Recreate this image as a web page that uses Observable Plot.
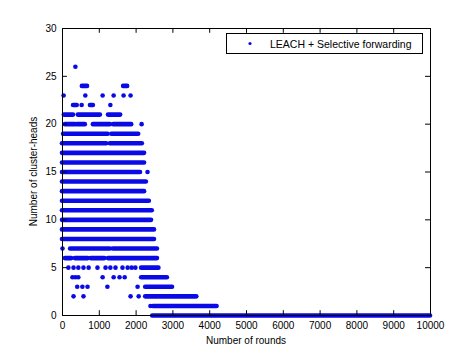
<!DOCTYPE html>
<html>
<head>
<meta charset="utf-8">
<script src="https://cdn.jsdelivr.net/npm/d3@7"></script>
<script src="https://cdn.jsdelivr.net/npm/@observablehq/plot@0.6"></script>
<style>
  html, body { margin: 0; padding: 0; background: #fff; }
  #chart svg { display: block; font-family: "Liberation Sans", Arial, sans-serif; }
</style>
</head>
<body>
<div id="chart"></div>
<script>
// ---- data ----
const seriesName = "LEACH + Selective forwarding";
const xLabel = "Number of rounds";
const yLabel = "Number of cluster-heads";
const xTicks = [0, 1000, 2000, 3000, 4000, 5000, 6000, 7000, 8000, 9000, 10000];
const yTicks = [0, 5, 10, 15, 20, 25, 30];

// dense runs of points: level (cluster-heads), first round, last round
const segLevel = [0, 1, 2, 3, 4, 5, 6, 6, 6, 6, 7, 7, 8, 9, 10, 11, 12, 13, 14, 15, 16, 17, 18, 18, 19, 19, 20, 20, 20, 20, 21, 21, 21, 22, 22, 24, 24];
const segStart = [2450, 2470, 2260, 2260, 2150, 2150, 80, 350, 780, 1250, 220, 1380, 0, 0, 0, 0, 0, 0, 0, 0, 0, 0, 0, 1300, 30, 1340, 80, 400, 840, 1390, 50, 430, 1250, 300, 760, 540, 1660];
const segEnd   = [10000, 4200, 3650, 2990, 2850, 2620, 250, 700, 1150, 2580, 1300, 2580, 2500, 2500, 2420, 2440, 2360, 2230, 2280, 2120, 2230, 2230, 1200, 2170, 1240, 2070, 350, 620, 1300, 1880, 300, 1030, 1580, 400, 840, 680, 1770];

// isolated points
const ptLevel = [1, 2, 2, 2, 2, 3, 3, 3, 3, 3, 4, 4, 4, 4, 4, 4, 4, 5, 5, 5, 5, 5, 5, 5, 5, 5, 5, 5, 5, 5, 7, 15, 20, 22, 22, 23, 23, 23, 23, 23, 23, 26];
const ptRound = [2390, 300, 570, 1850, 2070, 400, 540, 680, 1220, 2040, 270, 350, 430, 1090, 1390, 1550, 1690, 160, 300, 430, 570, 710, 950, 1170, 1300, 1440, 1630, 1770, 1880, 1980, 0, 2310, 2150, 520, 1300, 30, 620, 1090, 1390, 1660, 1850, 350];

// ---- tables built from the arrays ----
const segments = segLevel.map((l, i) => ({level: l, start: segStart[i], end: segEnd[i]}));
const points = ptLevel.map((l, i) => ({level: l, round: ptRound[i]}));

const blue = "#0a0ae6";
const W = 474, H = 355;
const mL = 62, mR = 44, mT = 28, mB = 40;

const plot = Plot.plot({
  width: W,
  height: H,
  marginLeft: mL,
  marginRight: mR,
  marginTop: mT,
  marginBottom: mB,
  style: {background: "#fff", fontSize: "10px", fontFamily: "'Liberation Sans', Arial, sans-serif", color: "#000"},
  x: {domain: [0, 10000]},
  y: {domain: [0, 30]},
  marks: [
    Plot.axisX(xTicks, {tickSize: 0, tickPadding: 6, tickFormat: d => String(d), label: null, fontSize: 10}),
    Plot.axisY(yTicks, {tickSize: 0, tickPadding: 6, tickFormat: d => String(d), label: null, fontSize: 10}),
    Plot.ruleY(segments, {y: "level", x1: "start", x2: "end", stroke: blue, strokeWidth: 4.6, strokeLinecap: "round"}),
    Plot.dot(points, {x: "round", y: "level", r: 2.3, fill: blue, stroke: null}),
    Plot.frame({stroke: "#000", strokeWidth: 1}),
    // inward tick marks (MATLAB style)
    Plot.ruleX(xTicks, {x: d => d, y1: 0, y2: 0.5, stroke: "#000"}),
    Plot.ruleX(xTicks, {x: d => d, y1: 30, y2: 29.5, stroke: "#000"}),
    Plot.ruleY(yTicks, {y: d => d, x1: 0, x2: 135, stroke: "#000"}),
    Plot.ruleY(yTicks, {y: d => d, x1: 10000, x2: 9865, stroke: "#000"})
  ]
});

document.getElementById("chart").appendChild(plot);

// axis titles and legend, placed in pixel space
const svg = d3.select(plot);
const cx = mL + (W - mL - mR) / 2;
const cy = mT + (H - mT - mB) / 2;
svg.append("text")
  .attr("x", cx).attr("y", H - 11)
  .attr("text-anchor", "middle")
  .attr("font-size", 10)
  .attr("fill", "#000")
  .text(xLabel);
svg.append("text")
  .attr("transform", `translate(37,${cy}) rotate(-90)`)
  .attr("text-anchor", "middle")
  .attr("font-size", 10)
  .attr("fill", "#000")
  .text(yLabel);

const lg = svg.append("g");
lg.append("rect")
  .attr("x", 226.5).attr("y", 33.5).attr("width", 196).attr("height", 20)
  .attr("fill", "#fff").attr("stroke", "#000").attr("stroke-width", 1);
lg.append("circle")
  .attr("cx", 250).attr("cy", 43.5).attr("r", 1.6).attr("fill", blue);
lg.append("text")
  .attr("x", 270).attr("y", 47.5)
  .attr("text-anchor", "start")
  .attr("font-size", 10.5)
  .attr("fill", "#000")
  .text(seriesName);
</script>
</body>
</html>
